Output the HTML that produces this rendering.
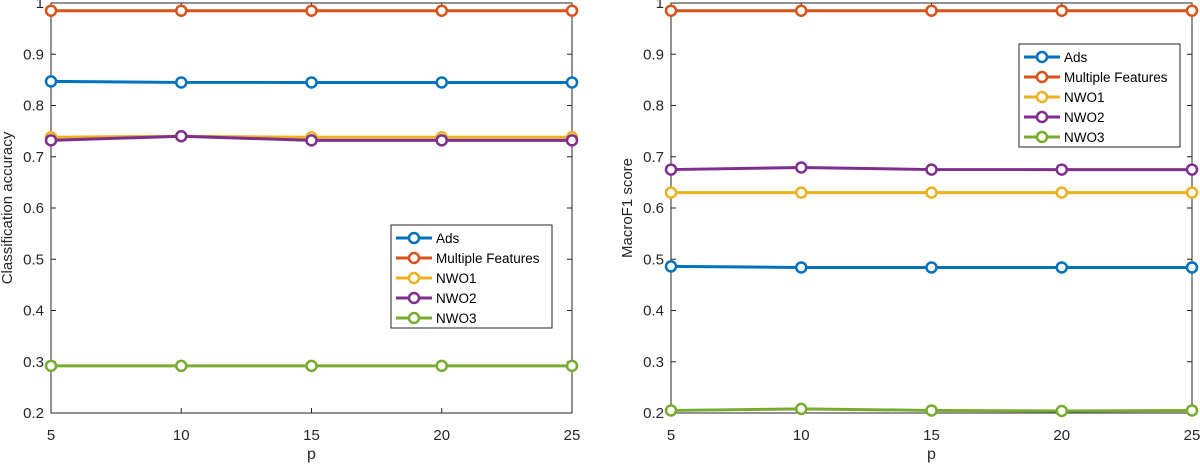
<!DOCTYPE html>
<html><head><meta charset="utf-8"><style>
body{margin:0;background:#fff}
svg{display:block;font-family:"Liberation Sans",sans-serif}
</style></head><body>
<svg id="c" width="1200" height="465"></svg>
<script>
const xVals=[5,10,15,20,25];
const xTicks=[5,10,15,20,25];
const yTicks=[0.2,0.3,0.4,0.5,0.6,0.7,0.8,0.9,1];
const seriesNames=["Ads","Multiple Features","NWO1","NWO2","NWO3"];
const colors=["#0072BD","#D95319","#EDB120","#7E2F8E","#77AC30"];
const accAds=[0.847,0.845,0.845,0.845,0.845];
const accMF=[0.985,0.985,0.985,0.985,0.985];
const accNWO1=[0.738,0.740,0.738,0.738,0.738];
const accNWO2=[0.732,0.740,0.732,0.732,0.732];
const accNWO3=[0.292,0.292,0.292,0.292,0.292];
const f1Ads=[0.486,0.484,0.484,0.484,0.484];
const f1MF=[0.985,0.985,0.985,0.985,0.985];
const f1NWO1=[0.630,0.630,0.630,0.630,0.630];
const f1NWO2=[0.675,0.679,0.675,0.675,0.675];
const f1NWO3=[0.205,0.208,0.205,0.204,0.205];
const NS="http://www.w3.org/2000/svg";
const svg=document.getElementById('c');
function mk(t,a,p){const e=document.createElementNS(NS,t);for(const k in a)e.setAttribute(k,a[k]);(p||svg).appendChild(e);return e;}
function panel(id,x0,x1,data,ylabel,ylx,leg){
 const y0=413,y1=3;
 const g=mk('g',{});
 
 
 const sx=v=>x0+(v-5)/20*(x1-x0);
 const sy=v=>y0-(v-0.2)/0.8*(y0-y1);
 mk('rect',{x:x0,y:y1,width:x1-x0,height:y0-y1,fill:'none',stroke:'#262626','stroke-width':1},g);
 xTicks.forEach(t=>{const x=sx(t);
  mk('line',{x1:x,x2:x,y1:y0,y2:y0-5,stroke:'#262626'},g);
  mk('line',{x1:x,x2:x,y1:y1,y2:y1+5,stroke:'#262626'},g);
  const tx=mk('text',{x:x,y:y0+27,'text-anchor':'middle','font-size':15,fill:'#262626'},g);tx.textContent=t;
  
  });
 yTicks.forEach(t=>{const y=sy(t);
  mk('line',{x1:x0,x2:x0+5,y1:y,y2:y,stroke:'#262626'},g);
  mk('line',{x1:x1,x2:x1-5,y1:y,y2:y,stroke:'#262626'},g);
  const tx=mk('text',{x:x0-7,y:y+5,'text-anchor':'end','font-size':15,fill:'#262626'},g);tx.textContent=t;
  
  });
 const xl=mk('text',{x:(x0+x1)/2,y:459,'text-anchor':'middle','font-size':16,fill:'#262626'},g);xl.textContent='p';
 
 
 const yl=mk('text',{x:0,y:0,'text-anchor':'middle','font-size':15,fill:'#262626',transform:`translate(${ylx},208) rotate(-90)`},g);yl.textContent=ylabel;
 
 
 data.forEach((d,i)=>{
  const pts=d.map((v,j)=>sx(xVals[j])+','+sy(v)).join(' ');
  const pl=mk('polyline',{points:pts,fill:'none',stroke:colors[i],'stroke-width':3},g);
  
  
  d.forEach((v,j)=>{const c=mk('circle',{cx:sx(xVals[j]),cy:sy(v),r:5,fill:'#fff',stroke:colors[i],'stroke-width':2.5},g);
   
   });
 });
 const lg=mk('g',{},g);
 
 
 mk('rect',{x:leg.x,y:leg.y,width:leg.w,height:103,fill:'#fff',stroke:'#262626'},lg);
 seriesNames.forEach((n,i)=>{const y=leg.y+13+i*20;
  const e=mk('g',{},lg);
  
  
  mk('line',{x1:leg.x+5,x2:leg.x+41,y1:y,y2:y,stroke:colors[i],'stroke-width':3},e);
  mk('circle',{cx:leg.x+23,cy:y,r:5,fill:'#fff',stroke:colors[i],'stroke-width':2.5},e);
  const t=mk('text',{x:leg.x+45,y:y+5,'font-size':13.5,fill:'#000'},e);t.textContent=n;});
}
panel('accuracy',51,572,[accAds,accMF,accNWO1,accNWO2,accNWO3],'Classification accuracy',12,{x:391,y:225,w:161});
panel('macrof1',671,1192,[f1Ads,f1MF,f1NWO1,f1NWO2,f1NWO3],'MacroF1 score',632,{x:1019,y:44,w:161});
</script>
</body></html>
